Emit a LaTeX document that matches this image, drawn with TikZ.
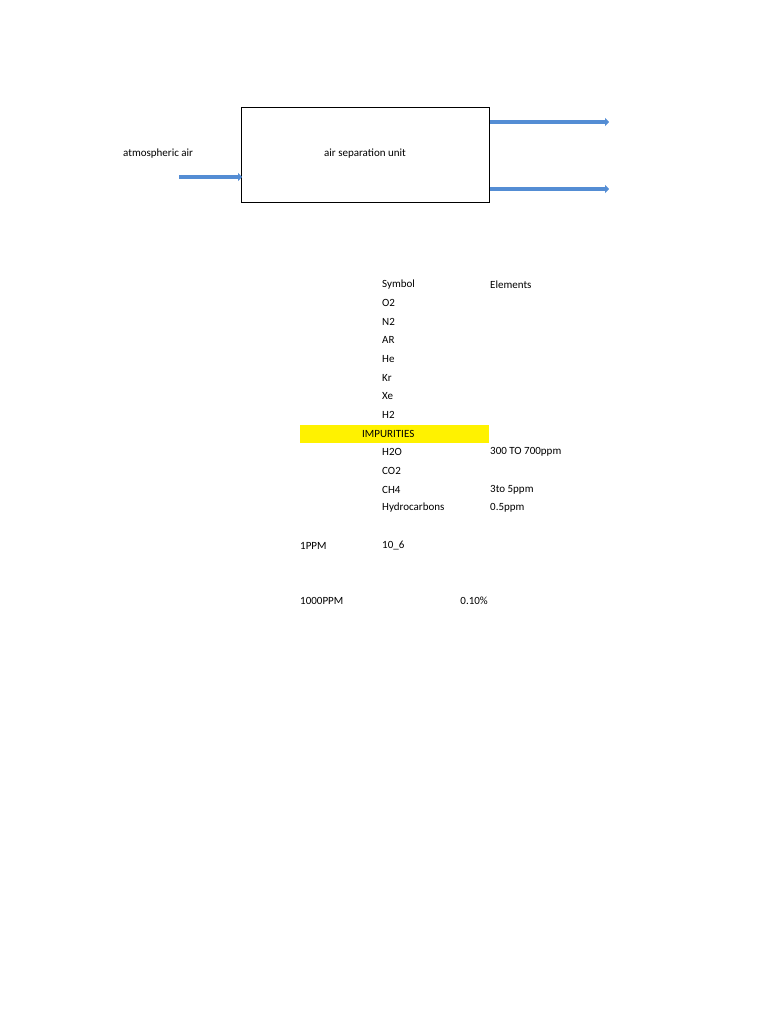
\documentclass[tikz,border=0pt]{standalone}
\usepackage{fontspec}
\setmainfont{Carlito}
\usetikzlibrary{arrows.meta}
\begin{document}
\begin{tikzpicture}[x=1pt,y=-1pt,
  t/.style={anchor=west,inner sep=0pt,font=\fontsize{11}{13}\selectfont},
  barrow/.style={line width=4pt,draw=arrowblue,-{Triangle[length=4pt,width=8pt]}}]
\definecolor{arrowblue}{RGB}{84,141,212}
\useasboundingbox (0,0) rectangle (768,1024);
\fill[white] (0,0) rectangle (768,1024);
\node[draw,line width=1.3pt,minimum width=248pt,minimum height=95pt,anchor=north west] (asu) at (241,107) {};
\node[inner sep=0pt,font=\fontsize{11}{13}\selectfont] (asul) at (365,154) {air separation unit};
\node[t] (atm) at (123,154) {atmospheric air};
\coordinate (inS) at (179,177);
\coordinate (inE) at (242,177);
\draw[barrow] (inS) -- (inE);
\coordinate (o1S) at (490,122); \coordinate (o1E) at (609,122);
\coordinate (o2S) at (490,189); \coordinate (o2E) at (609,189);
\draw[barrow] (o1S) -- (o1E);
\draw[barrow] (o2S) -- (o2E);
\fill[yellow] (300,425) rectangle (489,443);
\node[t] (sym) at (382,285) {Symbol};
\node[t] (ele) at (490,285) {Elements};
\node[t] (o2) at (382,303) {O2};
\node[t] (n2) at (382,322) {N2};
\node[t] (ar) at (382,340) {AR};
\node[t] (he) at (382,359) {He};
\node[t] (kr) at (382,378) {Kr};
\node[t] (xe) at (382,396) {Xe};
\node[t] (h2) at (382,415) {H2};
\node[t] (imp) at (362,434) {IMPURITIES};
\node[t] (h2o) at (382,452) {H2O};
\node[t] (h2ov) at (490,452) {300 TO 700ppm};
\node[t] (co2) at (382,471) {CO2};
\node[t] (ch4) at (382,490) {CH4};
\node[t] (ch4v) at (490,490) {3to 5ppm};
\node[t] (hc) at (382,508) {Hydrocarbons};
\node[t] (hcv) at (490,508) {0.5ppm};
\node[t] (ppm) at (300,546) {1PPM};
\node[t] (ten) at (382,546) {10\_6};
\node[t] (kppm) at (300,601) {1000PPM};
\node[t,anchor=east] (pct) at (488,601) {0.10\%};
\end{tikzpicture}
\end{document}
